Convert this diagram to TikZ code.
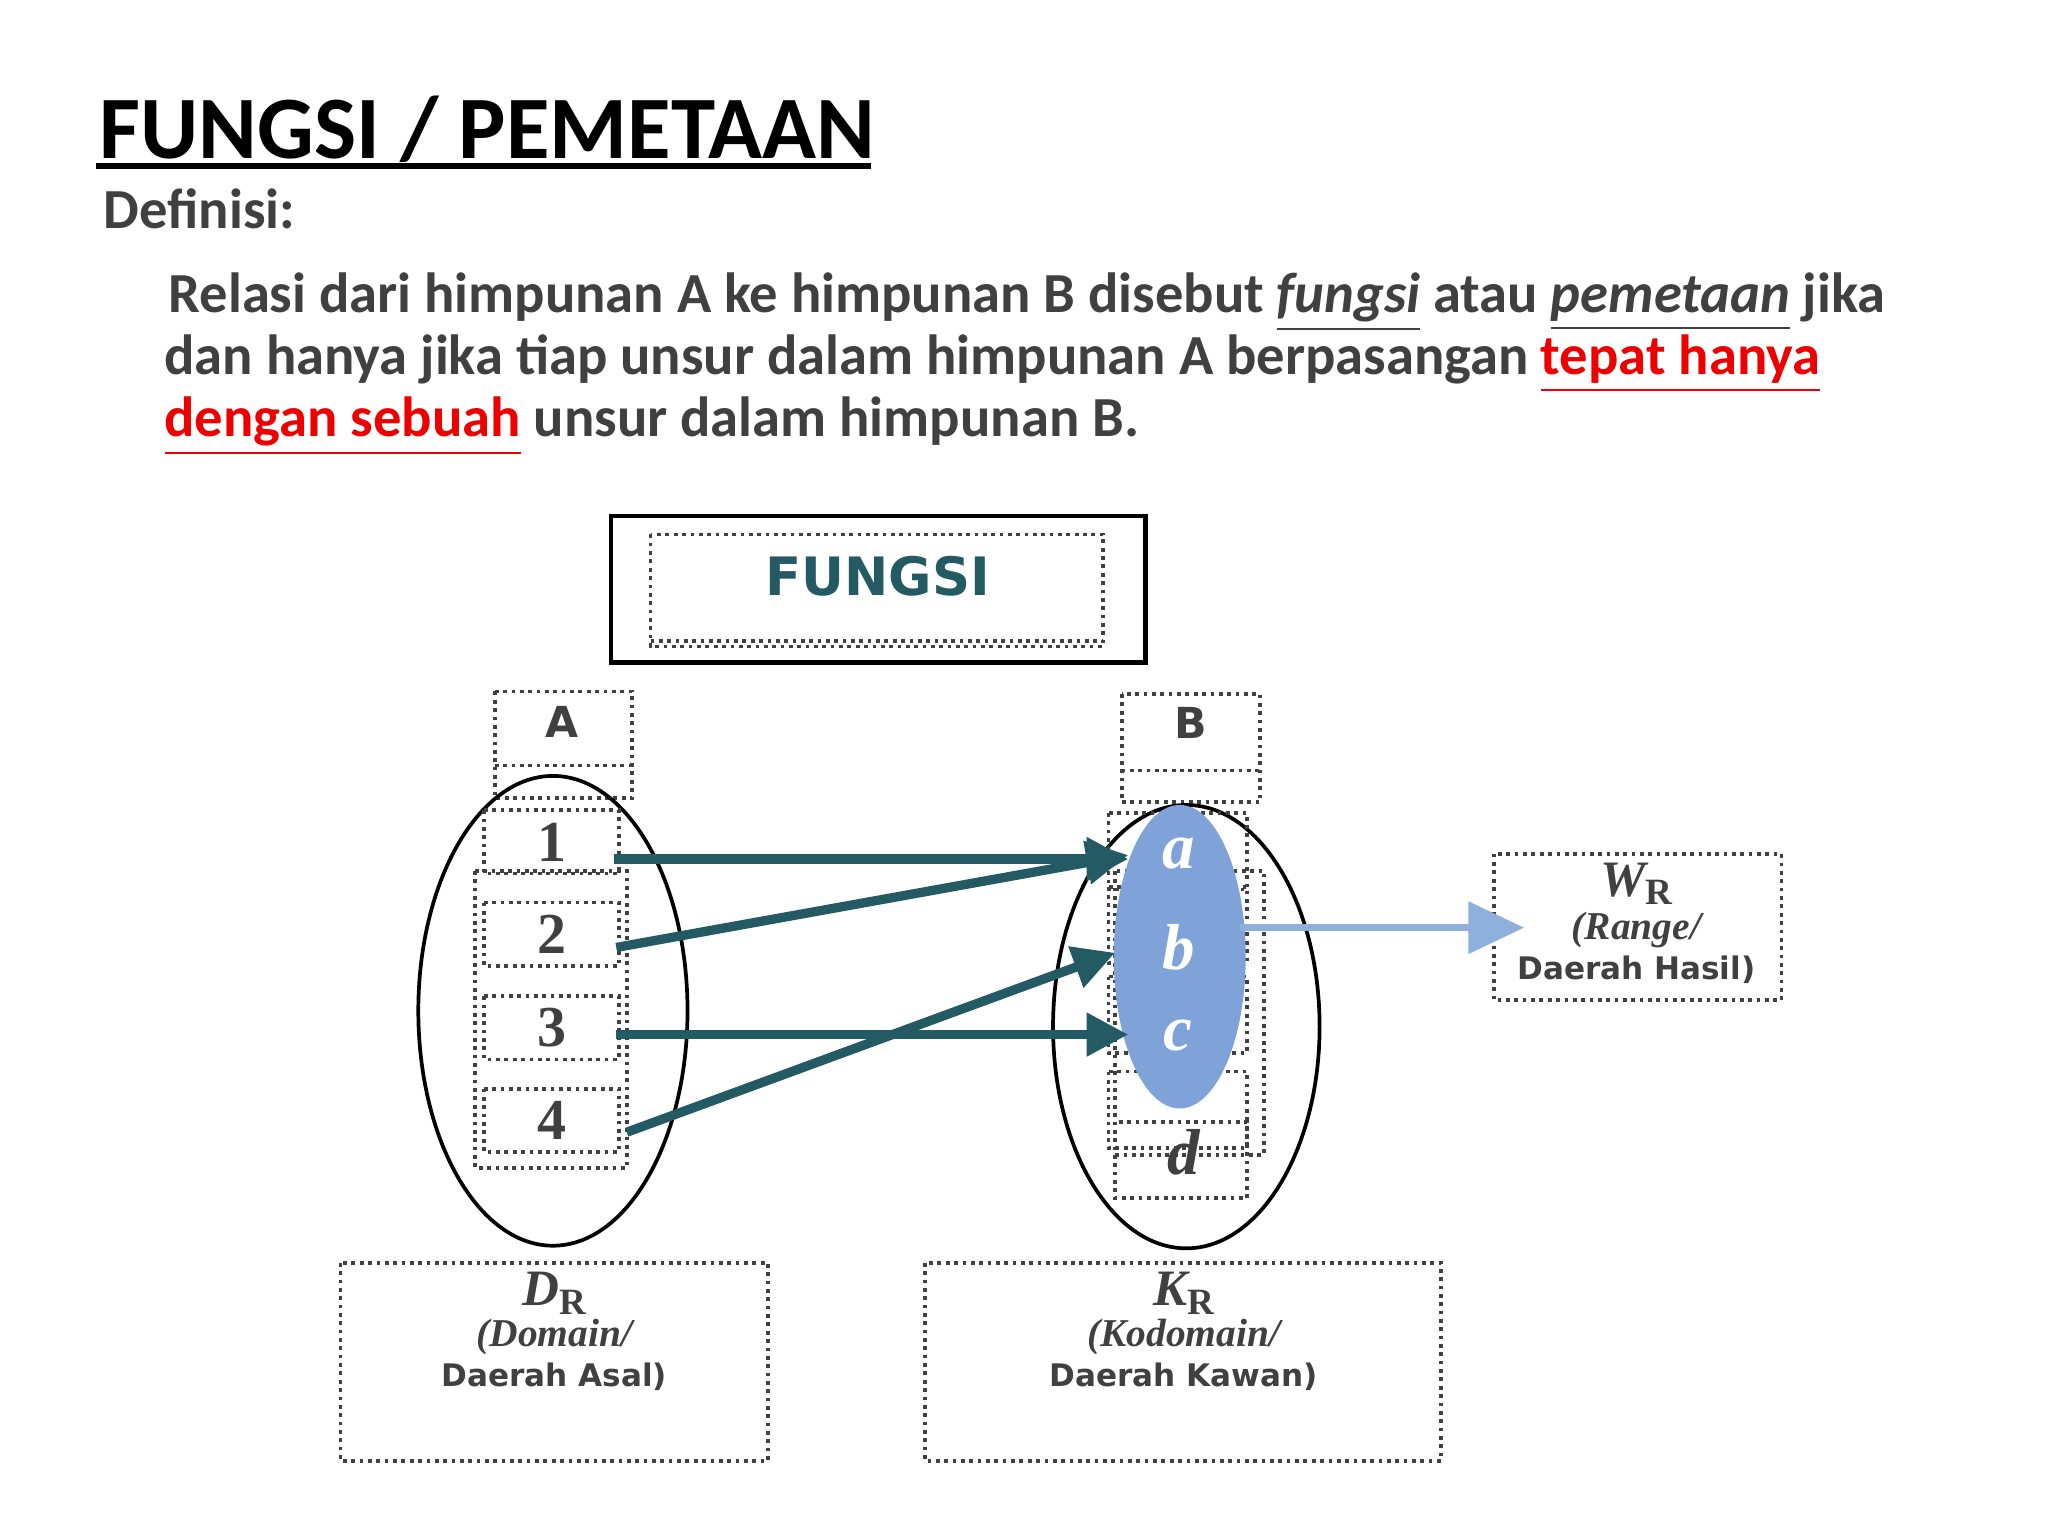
\documentclass[tikz,border=0pt]{standalone}
\usepackage{fontspec}
\setmainfont{Carlito}
\newfontfamily\dv{DejaVu Sans}
\newfontfamily\sr{Liberation Serif}
\usetikzlibrary{arrows.meta}
\definecolor{teal}{HTML}{245A64}
\definecolor{gtxt}{HTML}{404040}
\definecolor{lblue}{HTML}{7FA2D8}
\definecolor{abl}{HTML}{8FB0DC}
\definecolor{redu}{HTML}{EE0000}
\newcommand{\subR}{\raisebox{-0.35ex}{\fontsize{8}{9}\selectfont\upshape\bfseries R}}
\tikzset{dbox/.style={draw=black!75,densely dotted,line width=0.8pt},
 arr/.style={draw=teal,line width=2pt,-{Triangle[length=9pt,width=9pt]}},
 body/.style={anchor=base west,inner sep=0,font=\fontsize{12.2}{15}\selectfont\bfseries,text=gtxt}}
\begin{document}
\begin{tikzpicture}[x=0.01cm,y=-0.01cm]
\useasboundingbox[fill=white] (0,0) rectangle (1552,1164);
\node[anchor=base west,inner sep=0,font=\fontsize{19.2}{24}\selectfont\bfseries] (title) at (75,120) {FUNGSI / PEMETAAN};
\draw[line width=1.2pt] (73,126) -- (660,126);
\node[body] (def) at (78,173) {Definisi:};
\node[body] (l1) at (127,237) {Relasi dari himpunan A ke himpunan B disebut \underline{\textit{fungsi}} atau \underline{\textit{pemetaan}} jika};
\node[body] (l2) at (124,284) {dan hanya jika tiap unsur dalam himpunan A berpasangan \textcolor{redu}{\underline{tepat hanya}}};
\node[body] (l3) at (124,331) {\textcolor{redu}{\underline{dengan sebuah}} unsur dalam himpunan B.};
% FUNGSI box
\draw[line width=1pt] (463,391) rectangle (868,502);
\draw[dbox] (493,405) rectangle (836,490);
\draw[dbox] (493,486) -- (836,486);
\node[font=\dv\fontsize{11.4}{14}\selectfont\bfseries,text=teal] (fg) at (665,437) {FUNGSI};
% A and B headers
\draw[dbox] (375,524) rectangle (479,605); \draw[dbox] (375,580)--(479,580);
\node[font=\dv\fontsize{9.2}{11}\selectfont\bfseries,text=gtxt] (A) at (426,547) {A};
\draw[dbox] (850,526) rectangle (955,608); \draw[dbox] (850,584)--(955,584);
\node[font=\dv\fontsize{9.2}{11}\selectfont\bfseries,text=gtxt] (B) at (902,548) {B};
% ellipses
\draw[line width=0.8pt] (419,766) ellipse [x radius=102,y radius=178];
\draw[line width=0.8pt] (899,778) ellipse [x radius=101,y radius=168];
% number boxes
\draw[dbox] (360,660) rectangle (475,885);
\foreach \y/\t/\n in {638/1/n1,708/2/n2,779/3/n3,849/4/n4}{
 \draw[dbox] (367,\y-24) rectangle (469,\y+24);
 \node[font=\sr\fontsize{12.5}{15}\selectfont\bfseries,text=gtxt] (\n) at (418,\y) {\t};}
% letter boxes
\draw[dbox] (845,660) rectangle (958,875);
\foreach \y in {616,672,740,812}{\draw[dbox] (840,\y) rectangle (945,\y+58);}
\draw[dbox] (845,850) rectangle (945,908);
\fill[lblue] (894,725) ellipse [x radius=50,y radius=115];
\foreach \y/\t/\n in {647/a/la,718/b/lb,785/c/lc}{
 \node[font=\sr\fontsize{14}{18}\selectfont\bfseries\itshape,text=white] (\n) at (893,\y) {\t};}
\node[font=\sr\fontsize{14}{18}\selectfont\bfseries\itshape,text=gtxt] (ld) at (897,873) {d};
% arrows
\coordinate (p1) at (465,651); \coordinate (q1) at (855,651);
\coordinate (p2) at (467,718); \coordinate (q2) at (855,648);
\coordinate (p3) at (467,784); \coordinate (q3) at (855,784);
\coordinate (p4) at (475,858); \coordinate (q4) at (845,722);
\draw[arr] (p1)--(q1); \draw[arr] (p2)--(q2); \draw[arr] (p3)--(q3); \draw[arr] (p4)--(q4);
% range
\draw[dbox] (1132,647) rectangle (1350,758);
\coordinate (r0) at (940,703); \coordinate (r1) at (1155,703);
\draw[draw=abl,line width=1.4pt,-{Triangle[length=12pt,width=11pt]}] (r0)--(r1);
\node[font=\sr\fontsize{11}{13}\selectfont\bfseries\itshape,text=gtxt] (wr) at (1240,670) {W\subR};
\node[font=\sr\fontsize{8.5}{11}\selectfont\bfseries\itshape,text=gtxt] (wr2) at (1240,705) {(Range/};
\node[font=\dv\fontsize{6.7}{9}\selectfont\bfseries,text=gtxt] (wr3) at (1240,735) {Daerah Hasil)};
% domain
\draw[dbox] (258,957) rectangle (582,1107);
\node[font=\sr\fontsize{11}{13}\selectfont\bfseries\itshape,text=gtxt] (dr) at (420,980) {D\subR};
\node[font=\sr\fontsize{8.5}{11}\selectfont\bfseries\itshape,text=gtxt] (dr2) at (420,1013) {(Domain/};
\node[font=\dv\fontsize{6.7}{9}\selectfont\bfseries,text=gtxt] (dr3) at (420,1043) {Daerah Asal)};
\draw[dbox] (701,957) rectangle (1092,1107);
\node[font=\sr\fontsize{11}{13}\selectfont\bfseries\itshape,text=gtxt] (kr) at (897,980) {K\subR};
\node[font=\sr\fontsize{8.5}{11}\selectfont\bfseries\itshape,text=gtxt] (kr2) at (897,1013) {(Kodomain/};
\node[font=\dv\fontsize{6.7}{9}\selectfont\bfseries,text=gtxt] (kr3) at (897,1043) {Daerah Kawan)};
\end{tikzpicture}
\end{document}
